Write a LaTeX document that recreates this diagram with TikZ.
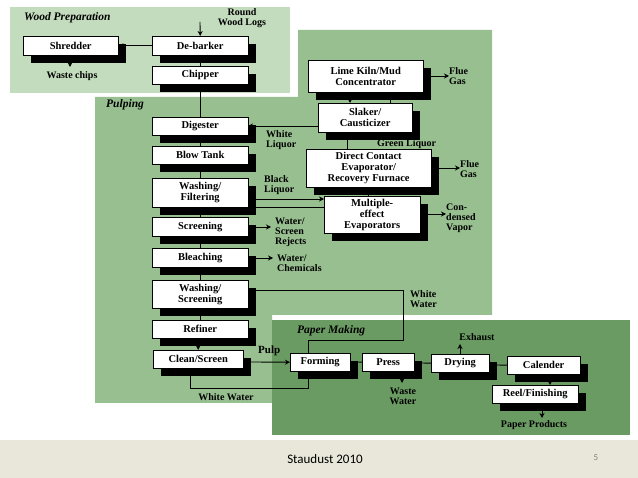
\documentclass[tikz,border=0pt]{standalone}
\usepackage{fontspec}
\setmainfont{Liberation Serif}
\usetikzlibrary{arrows.meta}
\definecolor{wp}{HTML}{C4DCBE}
\definecolor{pp}{HTML}{97BF8F}
\definecolor{pm}{HTML}{6A9B62}
\definecolor{foot}{HTML}{E9E7DA}
\begin{document}
\begin{tikzpicture}[x=1pt,y=-1pt,
  box/.style={draw=black,fill=white,font=\bfseries\fontsize{10.5}{11}\selectfont,align=center,inner sep=0pt},
  lab/.style={font=\bfseries\fontsize{10}{10}\selectfont,align=left,inner sep=0pt},
  ttl/.style={font=\bfseries\itshape\fontsize{11.5}{12}\selectfont,inner sep=0pt},
  ar/.style={-{Stealth[length=5pt,width=5pt]}},
  ln/.style={line width=0.9pt}]
\useasboundingbox (0,0) rectangle (638,478);
\fill[white] (0,0) rectangle (638,478);
\fill[wp] (10,7) rectangle (290,93);
\fill[pp] (95,97) -- (298,97) -- (298,30) -- (492,30) -- (492,315) -- (272,315) -- (272,403) -- (95,403) -- cycle;
\fill[pm] (272,320) rectangle (630,435);
\fill[foot] (0,440) rectangle (638,478);
\node at (325,459) {\fontspec{Carlito}\fontsize{13}{14}\selectfont Staudust 2010};
\node[text=gray] at (596,458) {\fontspec{Carlito}\fontsize{9}{9}\selectfont 5};
\node[ttl,anchor=west] at (24,18) {Wood Preparation};
\node[ttl,anchor=west] at (106,105) {Pulping};
\node[ttl,anchor=west] at (297,331) {Paper Making};
\newcommand\bx[6]{\fill[black] (#2+8,#3+8) rectangle ++(#4,#5);
  \node[box,minimum width=#4 pt,minimum height=#5 pt,anchor=north west] (#1) at (#2,#3) {#6};}
\bx{shred}{23}{36}{95}{19}{Shredder}
\bx{debark}{152}{36}{96}{19}{De-barker}
\bx{chip}{152}{66}{96}{18}{Chipper}
\bx{dig}{152}{117}{96}{18}{Digester}
\bx{blow}{152}{146}{96}{18}{Blow Tank}
\bx{wash}{152}{178}{96}{29}{Washing/\\Filtering}
\bx{scr}{152}{217}{96}{19}{Screening}
\bx{blea}{152}{248}{96}{19}{Bleaching}
\bx{wscr}{152}{280}{96}{28}{Washing/\\Screening}
\bx{ref}{152}{320}{96}{18}{Refiner}
\bx{clean}{153}{350}{90}{18}{Clean/Screen}
\bx{lime}{308}{60}{115}{32}{Lime Kiln/Mud\\Concentrator}
\bx{slak}{318}{103}{94}{29}{Slaker/\\Causticizer}
\bx{dce}{306}{149}{125}{38}{Direct Contact\\Evaporator/\\Recovery Furnace}
\bx{mee}{324}{196}{96}{37}{Multiple-\\effect\\Evaporators}
\bx{form}{290}{353}{60}{18}{Forming}
\bx{press}{362}{353}{52}{18}{Press}
\bx{dry}{431}{354}{58}{18}{Drying}
\bx{cal}{507}{356}{73}{18}{Calender}
\bx{reel}{492}{385}{86}{18}{Reel/Finishing}
% labels
\node[lab,align=center] (rwl) at (242,18) {Round\\Wood Logs};
\node[lab] (wc) at (72,76) {Waste chips};
\node[lab,anchor=west] (wl) at (266,140) {White\\Liquor};
\node[lab,anchor=west] (bl) at (264,185) {Black\\Liquor};
\node[lab,anchor=west] (gl) at (377,144.5) {Green Liquor};
\node[lab,anchor=west] (fg1) at (449,76) {Flue\\Gas};
\node[lab,anchor=west] (fg2) at (460,169) {Flue\\Gas};
\node[lab,anchor=west] (cv) at (446,218) {Con-\\densed\\Vapor};
\node[lab,anchor=west] (wsr) at (275,232) {Water/\\Screen\\Rejects};
\node[lab,anchor=west] (wch) at (277,263) {Water/\\Chemicals};
\node[lab,anchor=west] (ww1) at (410,299) {White\\Water};
\node[lab,anchor=west] (pulp) at (258,351) {\fontsize{11}{11}\selectfont Pulp};
\node[lab] (ww2) at (226,397) {White Water};
\node[lab,align=center] (wwa) at (403,396) {Waste\\Water};
\node[lab] (exh) at (477,337) {Exhaust};
\node[lab] (ppr) at (534,425) {Paper Products};
% connectors
\coordinate (top) at (200,22);
\draw[ln,ar] (top) -- (debark.north);
\draw[ln,ar] (debark.west) -- (shred.east);
\draw[ln,ar] (70,55) -- (70,67);
\draw[ln] (debark.south) -- (chip.north);
\draw[ln] (chip.south) -- (dig.north);
\draw[ln] (dig.south) -- (blow.north);
\draw[ln] (blow.south) -- (wash.north);
\draw[ln] (wash.south) -- (scr.north);
\draw[ln] (scr.south) -- (blea.north);
\draw[ln] (blea.south) -- (wscr.north);
\draw[ln] (wscr.south) -- (ref.north);
\draw[ln,ar] (ref.south -| clean.north) -- (clean.north);
\draw[ln,ar] (slak.west |- 0,126) -- (248,126);
\draw[ln,ar] (350,92) -- (350,103);
\draw[ln,ar] (390,103) -- (390,92);
\draw[ln,ar] (431,76) -- (fg1.west |- 0,76);
\draw[ln] (347,140) -- (347,149);
\draw[ln] (368,187) -- (368,196);
\draw[ln,ar] (439,168) -- (fg2.west |- 0,168);
\draw[ln,ar] (248,199) -- (324,199);
\draw[ln] (324,207) -- (248,207);
\draw[ln,ar] (428,214) -- (cv.west |- 0,214);
\draw[ln,ar] (256,227) -- (271,227);
\draw[ln,ar] (256,258) -- (273,258);
\draw[ln] (248,290) -- (403,290) -- (403,340) -- (308,340) -- (308,353);
\draw[ln,ar] (251,362) -- (form.west);
\draw[ln,ar] (308,371) -- (308,388) -- (190,388) -- (190,368);
\draw[ln] (358,362) -- (press.west);
\draw[ln] (422,363) -- (dry.west);
\draw[ln] (497,365) -- (cal.west);
\draw[ln,ar] (402,371) -- (402,383);
\draw[ln,ar] (460,354) -- (460,344);
\draw[ln,ar] (550,374) -- (550,385);
\draw[ln,ar] (542,411) -- (542,418);
\end{tikzpicture}
\end{document}
